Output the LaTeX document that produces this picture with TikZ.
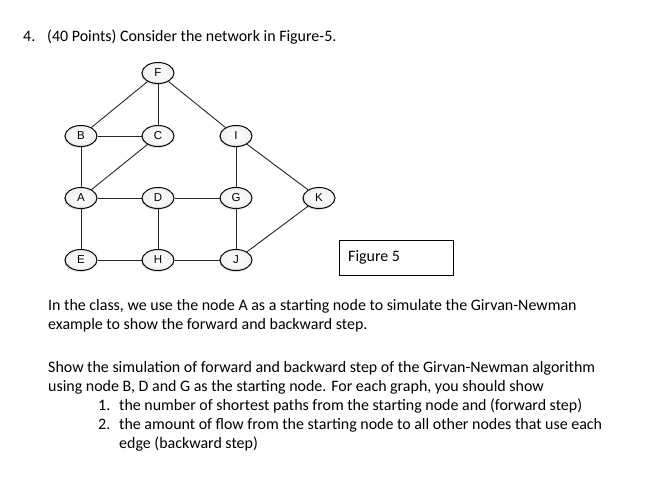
\documentclass[tikz,border=0pt]{standalone}
\usepackage{fontspec}
\setmainfont{Carlito}
\newfontfamily\labelfont{Liberation Sans}
\usetikzlibrary{shapes.geometric,shadows}

\tikzset{
  vertex/.style={ellipse, draw=black, line width=1pt, inner sep=0pt,
    minimum width=32pt, minimum height=21pt, inner color=white, outer color=gray!12,
    drop shadow={shadow xshift=-1pt, shadow yshift=-1.5pt, opacity=0.25},
    font=\labelfont\fontsize{11.5}{12}\selectfont},
  link/.style={line width=0.9pt, black!85},
  txt/.style={anchor=base west, inner sep=0pt, font=\fontsize{15.95}{19}\selectfont}
}

\begin{document}
\begin{tikzpicture}[x=1pt, y=-1pt]
    % Page of the exercise
    \fill[white] (0,0) rectangle (668,496);
    \useasboundingbox (0,0) rectangle (668,496);

    % Heading
    \node[txt] (num) at (23,41) {4.};
    \node[txt] (head) at (47,41) {(40 Points) Consider the network in Figure-5.};

    % Draw the nodes of the network
    \node[vertex] (F) at (158,73) {F};
    \node[vertex] (B) at (81,136) {B};
    \node[vertex] (C) at (158,136) {C};
    \node[vertex] (I) at (236,136) {I};
    \node[vertex] (A) at (81,198) {A};
    \node[vertex] (D) at (158,198) {D};
    \node[vertex] (G) at (236,198) {G};
    \node[vertex] (K) at (319,198) {K};
    \node[vertex] (E) at (81,260) {E};
    \node[vertex] (H) at (158,260) {H};
    \node[vertex] (J) at (236,260) {J};

    % Draw the links between them
    \draw[link] (F) -- (B);
    \draw[link] (F) -- (C);
    \draw[link] (F) -- (I);
    \draw[link] (B) -- (C);
    \draw[link] (B) -- (A);
    \draw[link] (C) -- (A);
    \draw[link] (I) -- (G);
    \draw[link] (I) -- (K);
    \draw[link] (A) -- (D);
    \draw[link] (D) -- (G);
    \draw[link] (A) -- (E);
    \draw[link] (D) -- (H);
    \draw[link] (G) -- (J);
    \draw[link] (K) -- (J);
    \draw[link] (E) -- (H);
    \draw[link] (H) -- (J);

    % Caption box
    \node[draw, line width=1pt, minimum width=114pt, minimum height=35pt,
      anchor=north west, inner sep=0pt] (capbox) at (339,240) {};
    \node[txt] (cap) at (348,261) {Figure 5};

    % Question text
    \node[txt] (p1) at (48,310) {In the class, we use the node A as a starting node to simulate the Girvan-Newman};
    \node[txt] (p2) at (48,329) {example to show the forward and backward step.};
    \node[txt] (p3) at (48,372) {Show the simulation of forward and backward step of the Girvan-Newman algorithm};
    \node[txt] (p4) at (48,391) {using node B, D and G as the starting node. For each graph, you should show};
    \node[txt] (n1) at (98,410) {1.};
    \node[txt] (i1) at (119,410) {the number of shortest paths from the starting node and (forward step)};
    \node[txt] (n2) at (98,429) {2.};
    \node[txt] (i2) at (119,429) {the amount of flow from the starting node to all other nodes that use each};
    \node[txt] (i3) at (119,448) {edge (backward step)};
\end{tikzpicture}
\end{document}
